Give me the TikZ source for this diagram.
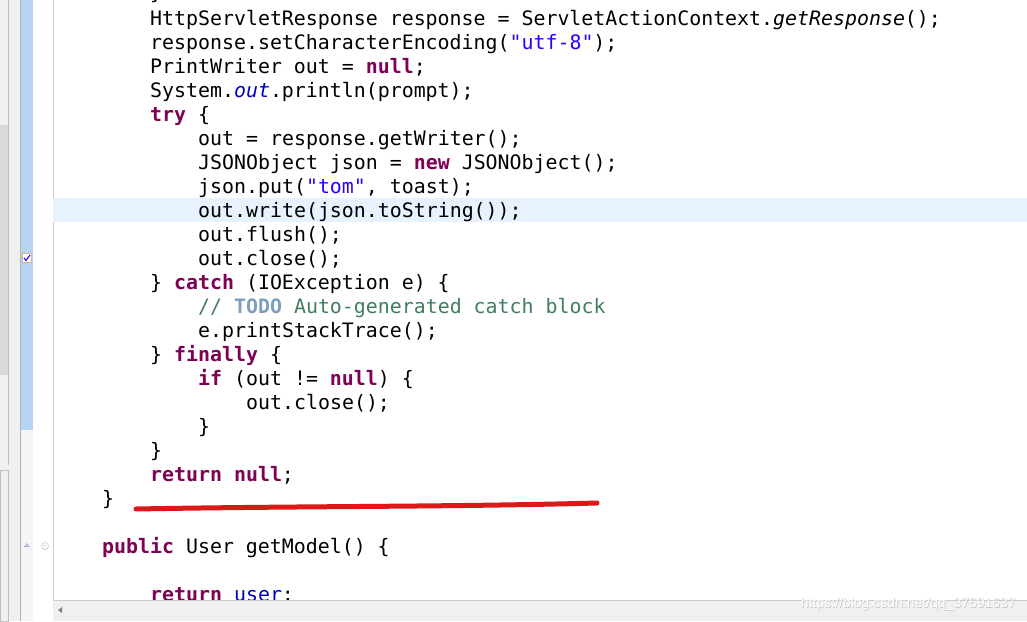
\documentclass[tikz,border=0pt]{standalone}
\usepackage{fontspec}
\setmonofont{DejaVu Sans Mono}
\setsansfont{Liberation Sans}
\definecolor{kwc}{HTML}{7F0055}
\definecolor{strc}{HTML}{2A00FF}
\definecolor{cmc}{HTML}{3F7F5F}
\definecolor{todoc}{HTML}{7F9FBF}
\definecolor{fldc}{HTML}{0000C0}
\definecolor{hl}{HTML}{E8F2FE}
\definecolor{rul}{HTML}{B8D4F4}
\newcommand{\kw}[1]{\textcolor{kwc}{\bfseries #1}}
\newcommand{\str}[1]{\textcolor{strc}{#1}}
\newcommand{\fld}[1]{\textcolor{fldc}{\itshape #1}}
\begin{document}
\begin{tikzpicture}[x=1pt,y=-1pt,
  code/.style={anchor=base west,inner sep=0pt,font=\fontsize{19.9}{24}\ttfamily}]
\useasboundingbox (0,0) rectangle (1027,621);
\fill[white] (0,0) rectangle (1027,621);
% left panel
\fill[gray!12] (0,0) rectangle (20,621);
\draw[gray!50] (8.5,0) -- (8.5,465);
\fill[gray!30] (0,125) rectangle (8,375);
\draw[gray!50] (0,470) rectangle (8,621);
\draw[gray!60] (20.5,0) -- (20.5,621);
% ruler
\fill[rul] (21,0) rectangle (33,430);
\fill[gray!8] (21,430) rectangle (33,621);
\draw[gray!40] (53.5,0) -- (53.5,600);
% current line highlight
\fill[hl] (53,198) rectangle (1027,222);
% marker icon
\node[draw=brown!60,fill=white,minimum size=9pt,inner sep=0pt] (ic) at (27,258) {};
\draw[blue,line width=1pt] ([shift={(-3,0)}]ic.center) -- ([shift={(-1,2.5)}]ic.center) -- ([shift={(3,-3)}]ic.center);
\node[font=\tiny,text=blue!60!black] (fold1) at (27,546) {$\triangle$};
\node[draw=gray!60,circle,inner sep=0pt,minimum size=7pt,font=\tiny,text=gray] (fold2) at (45,546) {$-$};
% code
\node[code] (l0) at (150,0) {\}};
\node[code] (l1) at (150,25) {HttpServletResponse response = ServletActionContext.\textit{getResponse}();};
\node[code] (l2) at (150,49) {response.setCharacterEncoding(\str{"utf-8"});};
\node[code] (l3) at (150,73) {PrintWriter out = \kw{null};};
\node[code] (l4) at (150,97) {System.\fld{out}.println(prompt);};
\node[code] (l5) at (150,121) {\kw{try} \{};
\node[code] (l6) at (198,145) {out = response.getWriter();};
\node[code] (l7) at (198,169) {JSONObject json = \kw{new} JSONObject();};
\node[code] (l8) at (198,193) {json.put(\str{"tom"}, toast);};
\node[code] (l9) at (198,217) {out.write(json.toString());};
\node[code] (l10) at (198,241) {out.flush();};
\node[code] (l11) at (198,265) {out.close();};
\node[code] (l12) at (150,289) {\} \kw{catch} (IOException e) \{};
\node[code] (l13) at (198,313) {\textcolor{cmc}{// \textcolor{todoc}{\bfseries TODO} Auto-generated catch block}};
\node[code] (l14) at (198,337) {e.printStackTrace();};
\node[code] (l15) at (150,361) {\} \kw{finally} \{};
\node[code] (l16) at (198,385) {\kw{if} (out != \kw{null}) \{};
\node[code] (l17) at (246,409) {out.close();};
\node[code] (l18) at (198,433) {\}};
\node[code] (l19) at (150,457) {\}};
\node[code] (l20) at (150,481) {\kw{return} \kw{null};};
\node[code] (l21) at (102,505) {\}};
\node[code] (l23) at (102,553) {\kw{public} User getModel() \{};
\node[code] (l25) at (150,601) {\kw{return} \textcolor{fldc}{user};};
% red underline
\draw[red!85!black,line width=5pt,line cap=round,opacity=0.9]
  (136,509) .. controls (300,506) and (450,507) .. (597,503);
% scrollbar
\fill[gray!12] (53,601) rectangle (1027,621);
\draw[gray!40] (53,600.5) -- (1027,600.5);
\fill[gray] (58,610) -- (62,607) -- (62,613) -- cycle;
% watermark
\node[anchor=east,inner sep=0pt,font=\sffamily\fontsize{14}{16}\selectfont,text=gray!45] (wm2) at (1016.7,604.7) {https://blog.csdn.net/qq\_37591637};
\node[anchor=east,inner sep=0pt,font=\sffamily\fontsize{14}{16}\selectfont,text=white] (wm) at (1016,604) {https://blog.csdn.net/qq\_37591637};
\end{tikzpicture}
\end{document}
